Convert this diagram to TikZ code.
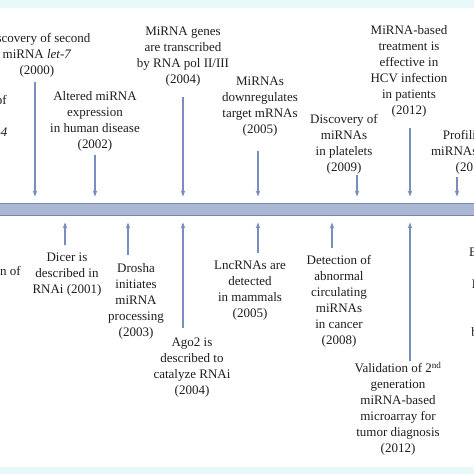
\documentclass[tikz,border=0pt]{standalone}
\usepackage{fontspec}
\setmainfont{Liberation Serif}
\usetikzlibrary{arrows.meta}
\definecolor{arrowc}{RGB}{122,142,190}
\definecolor{barfill}{RGB}{170,184,212}
\definecolor{barline}{RGB}{118,136,176}
\definecolor{bgcyan}{RGB}{232,249,250}
\definecolor{txt}{RGB}{30,30,30}
\begin{document}
\begin{tikzpicture}[x=1pt,y=-1pt,
  lbl/.style={font=\fontsize{13}{16}\selectfont, align=center, inner sep=0pt, text=txt},
  arr/.style={draw=arrowc, line width=1.2pt, -{Stealth[length=6pt,width=4.5pt]}},
  downarr/.style={arr, shorten >=6pt},
  uparr/.style={arr, shorten >=7pt}]
\useasboundingbox (0,0) rectangle (474,474);
\clip (0,0) rectangle (474,474);
\fill[white] (0,0) rectangle (474,474);
\fill[bgcyan] (0,0) rectangle (474,8);
\fill[bgcyan] (0,467) rectangle (474,474);
% timeline bar
\node[draw=barline, fill=barfill, line width=1pt, minimum width=500pt, minimum height=12pt, inner sep=0pt] (bar) at (237,209) {};
% labels above
\node[lbl] (t0) at (-27,125) {Discovery of\\first\\miRNA \textit{lin-4}\\(1993)};
\node[lbl] (t1) at (37,55) {Discovery of second\\miRNA \textit{let-7}\\(2000)};
\node[lbl] (t2) at (95,121) {Altered miRNA\\expression\\in human disease\\(2002)};
\node[lbl] (t3) at (183,57) {MiRNA genes\\are transcribed\\by RNA pol II/III\\(2004)};
\node[lbl] (t4) at (260,107) {MiRNAs\\downregulates\\target mRNAs\\(2005)};
\node[lbl] (t5) at (344,144) {Discovery of\\miRNAs\\in platelets\\(2009)};
\node[lbl] (t6) at (409,71) {MiRNA-based\\treatment is\\effective in\\HCV infection\\in patients\\(2012)};
\node[lbl] (t7) at (473,152) {Profiling of\\miRNAs in sera\\(2013)};
% labels below
\node[lbl] (b0) at (-21,281) {First\\identification of\\RISC\\(1999)};
\node[lbl] (b1) at (67,275) {Dicer is\\described in\\RNAi (2001)};
\node[lbl] (b2) at (136,301) {Drosha\\initiates\\miRNA\\processing\\(2003)};
\node[lbl] (b3) at (192,368) {Ago2 is\\described to\\catalyze RNAi\\(2004)};
\node[lbl] (b4) at (250,291) {LncRNAs are\\detected\\in mammals\\(2005)};
\node[lbl] (b5) at (339,301) {Detection of\\abnormal\\circulating\\miRNAs\\in cancer\\(2008)};
\node[lbl] (b6) at (398,409) {Validation of 2\textsuperscript{nd}\\generation\\miRNA-based\\microarray for\\tumor diagnosis\\(2012)};
\node[lbl] (b7) at (495,293) {Exosomal\\miRNA\\Profiling\\in\\plasma\\by qPCR};
% arrow tails
\coordinate (s1) at (35,82);
\coordinate (s2) at (95,155);
\coordinate (s3) at (183,97);
\coordinate (s4) at (258,151);
\coordinate (s5) at (357,175);
\coordinate (s6) at (410,128);
\coordinate (s7) at (457,177);
\coordinate (u1) at (65,245);
\coordinate (u2) at (128,255);
\coordinate (u3) at (183,328);
\coordinate (u4) at (258,253);
\coordinate (u5) at (332,248);
\coordinate (u6) at (410,361);
\foreach \s in {s1,s2,s3,s4,s5,s6,s7} \draw[downarr] (\s) -- (\s |- bar.north);
\foreach \u in {u1,u2,u3,u4,u5,u6} \draw[uparr] (\u) -- (\u |- bar.south);
\end{tikzpicture}
\end{document}
